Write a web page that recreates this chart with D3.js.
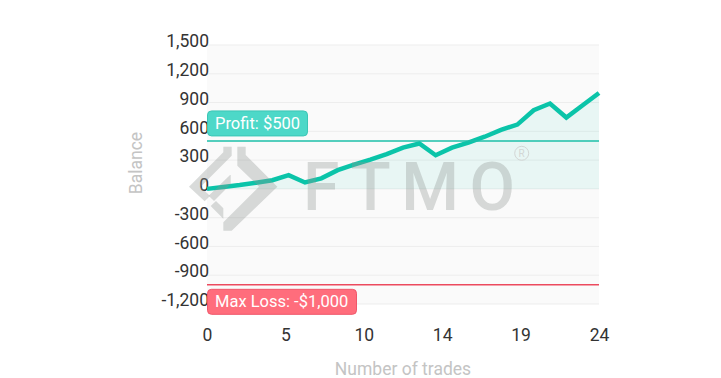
<!DOCTYPE html>
<html><head><meta charset="utf-8">
<script src="https://cdn.jsdelivr.net/npm/d3@7"></script>
<style>html,body{margin:0;padding:0;background:#fff;}svg{display:block;font-family:Roboto,"Noto Sans",sans-serif;}</style>
</head><body>
<svg id="c" width="721" height="378"></svg>
<script>
const trades = d3.range(25);
const balance = [0,20,40,65,90,143,67,110,195,252,304,362,430,473,351,430,482,544,615,670,820,890,744,872,1000];
const yTicks = [-1200,-900,-600,-300,0,300,600,900,1200,1500];
const xTickValues = [0,4.8,9.6,14.4,19.2,24];
const xTickLabels = ["0","5","10","14","19","24"];
const profitTarget = 500, maxLoss = -1000;
const profitLabel = "Profit: $500", lossLabel = "Max Loss: -$1,000";

const svg = d3.select("#c");
const L=207,R=599,T=45,B=304;
const x = d3.scaleLinear().domain([0,24]).range([L,R]);
const y = d3.scaleLinear().domain([-1200,1500]).range([B,T]);

svg.append("rect").attr("x",L).attr("y",T).attr("width",R-L).attr("height",B-T).attr("fill","#fafafa");
svg.append("g").selectAll("line").data(yTicks).join("line")
  .attr("x1",L).attr("x2",R).attr("y1",d=>y(d)).attr("y2",d=>y(d))
  .attr("stroke","#ededed").attr("stroke-width",1);

// area
svg.append("path").datum(balance)
  .attr("d",d3.area().x((d,i)=>x(trades[i])).y0(y(0)).y1(d=>y(d)))
  .attr("fill","#00c2a8").attr("fill-opacity",0.07);

const fmt = d3.format(",");
// y labels
const yAxis = svg.append("g").attr("transform",`translate(${L+2},0)`)
  .call(d3.axisLeft(y).tickValues(yTicks).tickSize(0).tickPadding(0).tickFormat(d=>fmt(d).replace("\u2212","-")));
yAxis.select(".domain").remove();
yAxis.selectAll("text").attr("font-size",17.5).attr("fill","#333").attr("font-family","Roboto").attr("dy","0.1em");

// x labels
const xAxis = svg.append("g").attr("transform",`translate(0,${B+25})`)
  .call(d3.axisBottom(x).tickValues(xTickValues).tickSize(0).tickPadding(0).tickFormat((d,i)=>xTickLabels[i]));
xAxis.select(".domain").remove();
xAxis.selectAll("text").attr("font-size",17.5).attr("fill","#333").attr("font-family","Roboto");

// titles
svg.append("text").attr("x",403).attr("y",375).attr("text-anchor","middle")
  .attr("font-size",17.5).attr("fill","#c4c4c4").text("Number of trades");
svg.append("text").attr("transform","translate(142,163) rotate(-90)").attr("text-anchor","middle")
  .attr("font-size",17.5).attr("fill","#c4c4c4").text("Balance");

// main line
svg.append("path").datum(balance)
  .attr("d",d3.line().x((d,i)=>x(trades[i])).y(d=>y(d)))
  .attr("fill","none").attr("stroke","#0bc4a9").attr("stroke-width",4.5).attr("stroke-linejoin","miter");

// profit / loss lines
svg.append("line").attr("x1",L).attr("x2",R).attr("y1",y(profitTarget)).attr("y2",y(profitTarget))
  .attr("stroke","#1dbfa9").attr("stroke-width",1.5);
svg.append("line").attr("x1",L).attr("x2",R).attr("y1",y(maxLoss)).attr("y2",y(maxLoss))
  .attr("stroke","#ec4a5e").attr("stroke-width",1.5);

function label(txt, yTop, w, fill, stroke){
  const g = svg.append("g");
  g.append("rect").attr("x",L+0.5).attr("y",yTop).attr("width",w).attr("height",25).attr("rx",4)
   .attr("fill",fill).attr("stroke",stroke).attr("stroke-width",1);
  g.append("text").attr("x",L+8).attr("y",yTop+18).attr("font-size",16.5).attr("fill","#fff").text(txt);
}
label(profitLabel, y(profitTarget)-30, 100, "#4dd8c8", "#3cc6b5");
label(lossLabel, y(maxLoss)+4.5, 149, "#ff6d7c", "#f0566a");

// watermark
const wm = svg.append("g").attr("fill","#8f9593").attr("fill-opacity",0.34);
const toP = pts => pts.map(p=>[180+p[0]/3,140+p[1]/3]);
const polys = [
  [[172,20],[197,20],[197,45],[292,140],[155,272],[130,272],[130,247],[237,140],[172,77]],
  [[130,20],[155,20],[155,47],[62,140],[90,168],[74,184],[27,140],[130,37]],
  [[150,105],[152,105],[152,133],[102,183],[86,167]],
  [[92,198],[130,236],[130,205],[108,183]]
];
wm.selectAll("path").data(polys).join("path").attr("d",d=>d3.line()(toP(d))+"Z");
wm.append("text").attr("x",303).attr("y",210).attr("font-size",66).attr("font-weight",500)
  .attr("textLength",212).attr("lengthAdjust","spacing").text("FTMO");
svg.append("circle").attr("cx",521.7).attr("cy",153.3).attr("r",7).attr("fill","none")
  .attr("stroke","#d3d6d5").attr("stroke-width",1);
svg.append("text").attr("x",521.7).attr("y",157.3).attr("text-anchor","middle").attr("font-size",10)
  .attr("fill","#d3d6d5").text("R");
</script>
</body></html>
